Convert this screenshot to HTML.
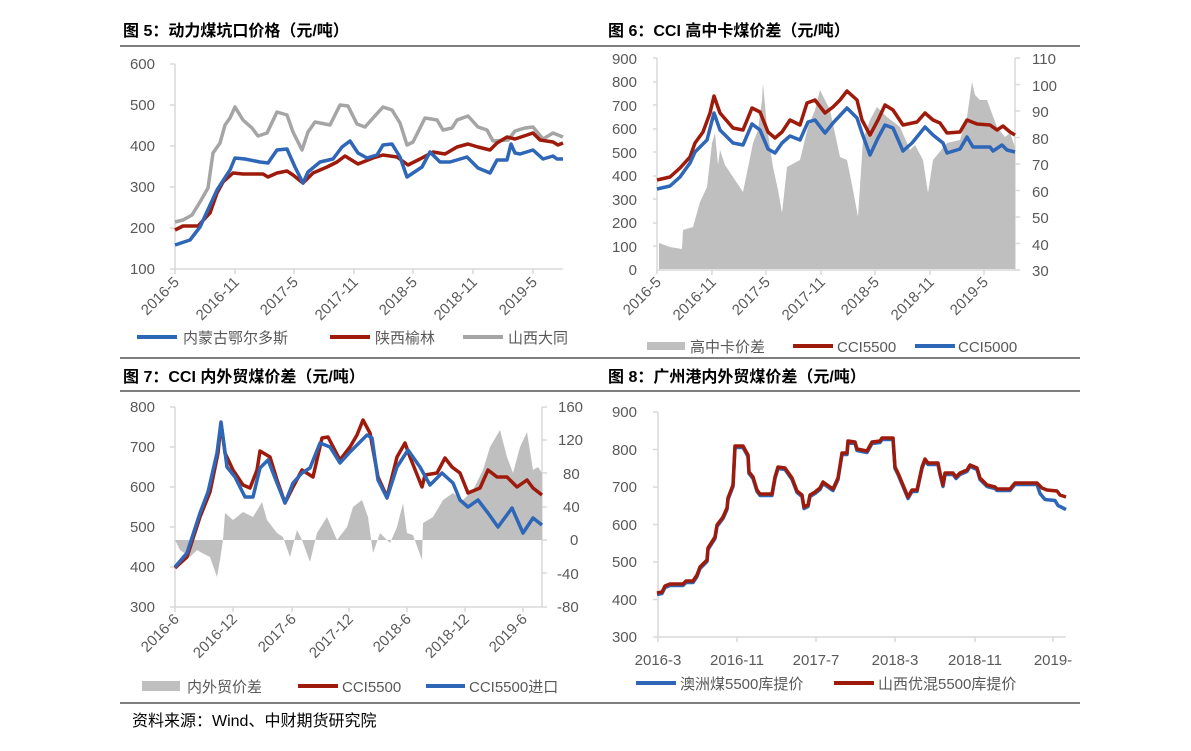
<!DOCTYPE html>
<html><head><meta charset="utf-8"><style>
body{margin:0;background:#fff;}
svg{display:block;font-family:"Liberation Sans","Noto Sans CJK SC",sans-serif;}
.t{font-family:"Liberation Sans","Noto Sans CJK SC",sans-serif;font-weight:bold;font-size:16px;fill:#000;}
.a{font-size:15px;fill:#595959;}
.l{font-size:15px;fill:#595959;}
.ax{stroke:#d9d9d9;stroke-width:1.5;fill:none;}
.ln{fill:none;stroke-width:3.5;stroke-linejoin:round;}
</style></head><body>
<svg width="1191" height="751" viewBox="0 0 1191 751">
<!-- separators -->
<line x1="120" y1="46" x2="1080" y2="46" stroke="#555" stroke-width="1.5"/>
<line x1="120" y1="358" x2="1080" y2="358" stroke="#555" stroke-width="1.5"/>
<line x1="120" y1="391" x2="1080" y2="391" stroke="#555" stroke-width="1.5"/>
<line x1="120" y1="703" x2="1080" y2="703" stroke="#555" stroke-width="1.5"/>

<!-- Panel 1 -->
<text class="t" x="123" y="36">图 5：动力煤坑口价格（元/吨）</text>
<g class="a" text-anchor="end">
<text x="155" y="69">600</text><text x="155" y="110">500</text><text x="155" y="151">400</text><text x="155" y="192">300</text><text x="155" y="233">200</text><text x="155" y="274">100</text>
</g>
<path class="ax" d="M175 64V274M170 64H175M170 105H175M170 146H175M170 187H175M170 228H175M170 269H563M175 269v5M235 269v5M294 269v5M354 269v5M413 269v5M473 269v5M533 269v5"/>
<g class="a" text-anchor="end">
<text transform="translate(180,283) rotate(-45)">2016-5</text>
<text transform="translate(240,283) rotate(-45)">2016-11</text>
<text transform="translate(299,283) rotate(-45)">2017-5</text>
<text transform="translate(359,283) rotate(-45)">2017-11</text>
<text transform="translate(418,283) rotate(-45)">2018-5</text>
<text transform="translate(478,283) rotate(-45)">2018-11</text>
<text transform="translate(538,283) rotate(-45)">2019-5</text>
</g>
<polyline class="ln" stroke="#a5a5a5" points="175,222 183,220 192,215 200,202 208,188 213,153 220,143 225,125 230,118 235,107 243,120 252,128 258,136 267,133 277,112 287,115 293,132 302,150 308,132 315,122 330,125 340,105 348,106 357,124 365,127 373,118 383,107 392,110 400,123 407,145 413,142 425,118 437,120 443,130 452,128 457,120 468,116 478,127 487,130 493,141 508,140 515,131 525,128 533,127 543,139 553,133 563,137"/>
<polyline class="ln" stroke="#9e1b0c" points="175,230 183,226 198,226 210,213 217,193 223,182 233,173 243,174 263,174 268,177 277,173 287,171 293,175 303,183 313,173 327,167 337,162 345,156 358,164 373,158 383,155 397,157 408,165 420,159 433,152 445,154 457,147 468,144 478,147 490,150 497,143 507,137 515,139 533,133 540,140 553,142 558,145 563,143"/>
<polyline class="ln" stroke="#2e66b8" points="175,245 190,240 200,227 217,190 230,170 235,158 245,159 260,162 268,163 277,150 287,149 295,167 303,183 308,172 320,162 333,159 342,147 350,141 358,153 367,158 377,155 383,145 392,144 400,157 407,177 413,173 422,167 430,152 440,162 450,162 467,157 478,168 490,173 497,160 507,160 511,144 515,153 520,154 533,150 543,159 553,156 557,159 563,159"/>
<g class="l">
<line x1="137" y1="337" x2="177" y2="337" stroke="#2e66b8" stroke-width="4"/><text x="183" y="343">内蒙古鄂尔多斯</text>
<line x1="330" y1="337" x2="370" y2="337" stroke="#9e1b0c" stroke-width="4"/><text x="375" y="343">陕西榆林</text>
<line x1="463" y1="337" x2="503" y2="337" stroke="#a5a5a5" stroke-width="4"/><text x="508" y="343">山西大同</text>
</g>

<!-- Panel 2 -->
<text class="t" x="608" y="36">图 6：CCI 高中卡煤价差（元/吨）</text>
<g class="a" text-anchor="end">
<text x="637" y="64">900</text><text x="637" y="87">800</text><text x="637" y="111">700</text><text x="637" y="134">600</text><text x="637" y="158">500</text><text x="637" y="181">400</text><text x="637" y="205">300</text><text x="637" y="228">200</text><text x="637" y="252">100</text><text x="637" y="275">0</text>
</g>
<g class="a">
<text x="1032" y="64">110</text><text x="1032" y="91">100</text><text x="1032" y="117">90</text><text x="1032" y="144">80</text><text x="1032" y="170">70</text><text x="1032" y="197">60</text><text x="1032" y="223">50</text><text x="1032" y="250">40</text><text x="1032" y="276">30</text>
</g>
<path class="ax" d="M657 58V274M653 58H657M653 82H657M653 105H657M653 129H657M653 152H657M653 176H657M653 199H657M653 223H657M653 246H657M1015 58V270M1015 58h5M1015 84.5h5M1015 111h5M1015 137.5h5M1015 164h5M1015 190.5h5M1015 217h5M1015 243.5h5M657 270H1020M712 270v5M766 270v5M821 270v5M875 270v5M930 270v5M984 270v5"/>
<polygon fill="#bfbfbf" points="659,269 659,243 670,247 682,249 683,230 693,227 700,202 707,187 712,143 715,133 718,165 720,150 725,165 733,177 743,192 753,143 758,130 762,100 763,83 767,127 773,167 778,190 782,213 787,167 800,160 808,127 815,110 820,90 825,100 830,110 840,157 847,160 853,190 858,217 863,140 870,120 877,107 887,117 900,127 910,150 915,145 923,160 928,193 933,160 947,143 960,140 967,117 972,82 975,95 980,100 987,100 997,127 1005,137 1010,133 1015,147 1015,269"/>
<polyline class="ln" stroke="#9e1b0c" points="657,180 670,177 680,168 690,157 695,143 703,132 710,113 714,96 720,113 733,128 743,130 752,108 760,112 768,132 775,138 782,132 790,120 800,125 807,103 815,100 825,113 833,107 840,100 847,91 857,100 862,120 870,135 878,120 885,105 893,110 903,125 917,122 925,113 933,120 940,123 947,133 960,132 967,120 977,124 990,125 997,130 1003,126 1010,132 1015,135"/>
<polyline class="ln" stroke="#2e66b8" points="657,189 670,186 680,177 690,163 695,152 707,140 714,113 720,130 733,143 743,145 752,124 760,130 768,149 775,153 782,143 790,136 800,140 808,122 815,120 825,133 833,123 847,108 857,118 862,133 870,155 878,138 885,125 893,128 903,151 912,143 925,127 933,135 943,143 947,153 960,149 967,137 973,147 990,147 993,151 1002,145 1007,150 1015,152"/>
<g class="a" text-anchor="end">
<text transform="translate(662,283) rotate(-45)">2016-5</text>
<text transform="translate(717,283) rotate(-45)">2016-11</text>
<text transform="translate(771,283) rotate(-45)">2017-5</text>
<text transform="translate(826,283) rotate(-45)">2017-11</text>
<text transform="translate(880,283) rotate(-45)">2018-5</text>
<text transform="translate(935,283) rotate(-45)">2018-11</text>
<text transform="translate(989,283) rotate(-45)">2019-5</text>
</g>
<g class="l">
<rect x="647" y="342" width="38" height="8" fill="#bfbfbf"/><text x="690" y="352">高中卡价差</text>
<line x1="793" y1="346" x2="833" y2="346" stroke="#9e1b0c" stroke-width="4"/><text x="837" y="352">CCI5500</text>
<line x1="915" y1="346" x2="955" y2="346" stroke="#2e66b8" stroke-width="4"/><text x="958" y="352">CCI5000</text>
</g>

<!-- Panel 3 -->
<text class="t" x="123" y="382">图 7：CCI 内外贸煤价差（元/吨）</text>
<g class="a" text-anchor="end">
<text x="155" y="412">800</text><text x="155" y="452">700</text><text x="155" y="492">600</text><text x="155" y="532">500</text><text x="155" y="572">400</text><text x="155" y="612">300</text>
</g>
<g class="a">
<text x="558" y="412">160</text><text x="558" y="445">120</text><text x="563" y="479">80</text><text x="563" y="512">40</text><text x="570" y="545">0</text><text x="557" y="579">-40</text><text x="557" y="612">-80</text>
</g>
<path class="ax" d="M175 407V612M170 407H175M170 447H175M170 487H175M170 527H175M170 567H175M170 607H542M542 407V607M542 407h5M542 440h5M542 473h5M542 507h5M542 540h5M542 573h5M542 607h5M233 607v5M292 607v5M349 607v5M407 607v5M465 607v5M523 607v5"/>
<polygon fill="#bfbfbf" points="175,540 180,550 190,557 197,550 202,553 210,557 217,577 220,560 223,540 225,513 233,520 243,512 253,517 262,502 267,520 277,533 283,537 290,557 297,530 302,540 310,562 317,533 327,517 337,540 347,527 353,507 362,500 368,517 373,553 380,533 390,543 397,527 403,503 407,533 413,535 422,560 423,523 433,517 443,500 453,493 463,500 473,490 483,470 490,447 500,430 507,457 513,473 520,447 527,432 533,470 538,467 542,473 542,540"/>
<polyline class="ln" stroke="#9e1b0c" points="175,568 187,557 200,517 210,492 218,453 221,423 225,453 233,470 243,485 250,488 257,470 260,451 270,457 277,480 285,503 293,487 302,470 313,477 322,438 328,437 340,460 350,447 357,435 363,420 370,433 378,477 387,497 397,457 405,443 410,457 422,487 425,475 437,473 445,458 452,467 460,473 468,493 480,488 488,470 497,477 507,477 517,487 527,480 533,488 542,495"/>
<polyline class="ln" stroke="#2e66b8" points="175,567 187,553 200,513 208,492 217,453 221,422 227,467 235,477 245,497 253,497 260,468 268,460 277,483 285,503 293,483 302,473 310,468 320,443 330,447 340,463 350,452 360,442 367,435 372,438 378,480 387,498 397,467 408,450 420,467 430,485 442,473 453,483 460,500 468,507 478,500 488,513 498,527 512,508 523,533 533,518 542,525"/>
<g class="a" text-anchor="end">
<text transform="translate(180,620) rotate(-45)">2016-6</text>
<text transform="translate(238,620) rotate(-45)">2016-12</text>
<text transform="translate(297,620) rotate(-45)">2017-6</text>
<text transform="translate(354,620) rotate(-45)">2017-12</text>
<text transform="translate(412,620) rotate(-45)">2018-6</text>
<text transform="translate(470,620) rotate(-45)">2018-12</text>
<text transform="translate(528,620) rotate(-45)">2019-6</text>
</g>
<g class="l">
<rect x="142" y="681" width="38" height="10" fill="#bfbfbf"/><text x="187" y="692">内外贸价差</text>
<line x1="298" y1="686" x2="338" y2="686" stroke="#9e1b0c" stroke-width="4"/><text x="342" y="692">CCI5500</text>
<line x1="426" y1="686" x2="465" y2="686" stroke="#2e66b8" stroke-width="4"/><text x="469" y="692">CCI5500进口</text>
</g>

<!-- Panel 4 -->
<text class="t" x="608" y="382">图 8：广州港内外贸煤价差（元/吨）</text>
<g class="a" text-anchor="end">
<text x="637" y="417">900</text><text x="637" y="455">800</text><text x="637" y="492">700</text><text x="637" y="530">600</text><text x="637" y="567">500</text><text x="637" y="605">400</text><text x="637" y="642">300</text>
</g>
<path class="ax" d="M658 412V642M653 412H658M653 449.5H658M653 487H658M653 524.5H658M653 562H658M653 599.5H658M653 637H1066M737 637v5M816 637v5M895 637v5M975 637v5M1053 637v5"/>
<g class="a" text-anchor="middle">
<text x="658" y="665">2016-3</text><text x="737" y="665">2016-11</text><text x="816" y="665">2017-7</text><text x="895" y="665">2018-3</text><text x="975" y="665">2018-11</text><text x="1053" y="665">2019-</text>
</g>
<polyline class="ln" stroke="#2e66b8" transform="translate(0,1.5)" points="657,593 662,592 665,586 670,584 683,584 686,581 693,581 697,575 700,567 707,560 708,548 715,537 717,525 723,517 727,508 728,498 733,485 735,446 743,446 748,455 749,472 753,477 757,490 760,494 772,494 775,477 778,467 785,468 792,478 797,491 802,495 804,507 808,505 810,495 815,492 820,488 823,482 830,487 833,489 838,478 842,453 847,453 848,441 855,442 857,449 867,451 872,442 880,441 882,438 893,438 895,467 898,473 903,485 908,497 912,490 917,490 922,467 925,459 928,463 938,463 940,473 943,485 945,473 953,473 956,477 960,473 967,470 970,465 977,468 980,478 987,485 995,487 997,489 1010,489 1015,483 1037,483 1040,492 1045,498 1055,499 1058,504 1066,508"/>
<polyline class="ln" stroke="#9e1b0c" points="657,593 662,592 665,586 670,584 683,584 686,581 693,581 697,575 700,567 707,560 708,548 715,537 717,525 723,517 727,508 728,498 733,485 735,446 743,446 748,455 749,472 753,477 757,490 760,494 772,494 775,477 778,467 785,468 792,478 797,491 802,495 804,507 808,505 810,495 815,492 820,488 823,482 830,487 833,489 838,478 842,453 847,453 848,441 855,442 857,449 867,451 872,442 880,441 882,438 893,438 895,467 898,473 903,485 908,497 912,490 917,490 922,467 925,459 928,463 938,463 940,473 943,485 945,473 953,473 956,477 960,473 967,470 970,465 977,468 980,478 987,485 995,487 997,489 1010,489 1015,483 1037,483 1042,488 1047,490 1057,491 1060,495 1066,497"/>
<g class="l">
<line x1="636" y1="683" x2="676" y2="683" stroke="#2e66b8" stroke-width="4"/><text x="680" y="689">澳洲煤5500库提价</text>
<line x1="834" y1="683" x2="874" y2="683" stroke="#9e1b0c" stroke-width="4"/><text x="878" y="689">山西优混5500库提价</text>
</g>

<text x="132" y="726" style="font-size:16px;fill:#000;">资料来源：Wind、中财期货研究院</text>
</svg>
</body></html>
